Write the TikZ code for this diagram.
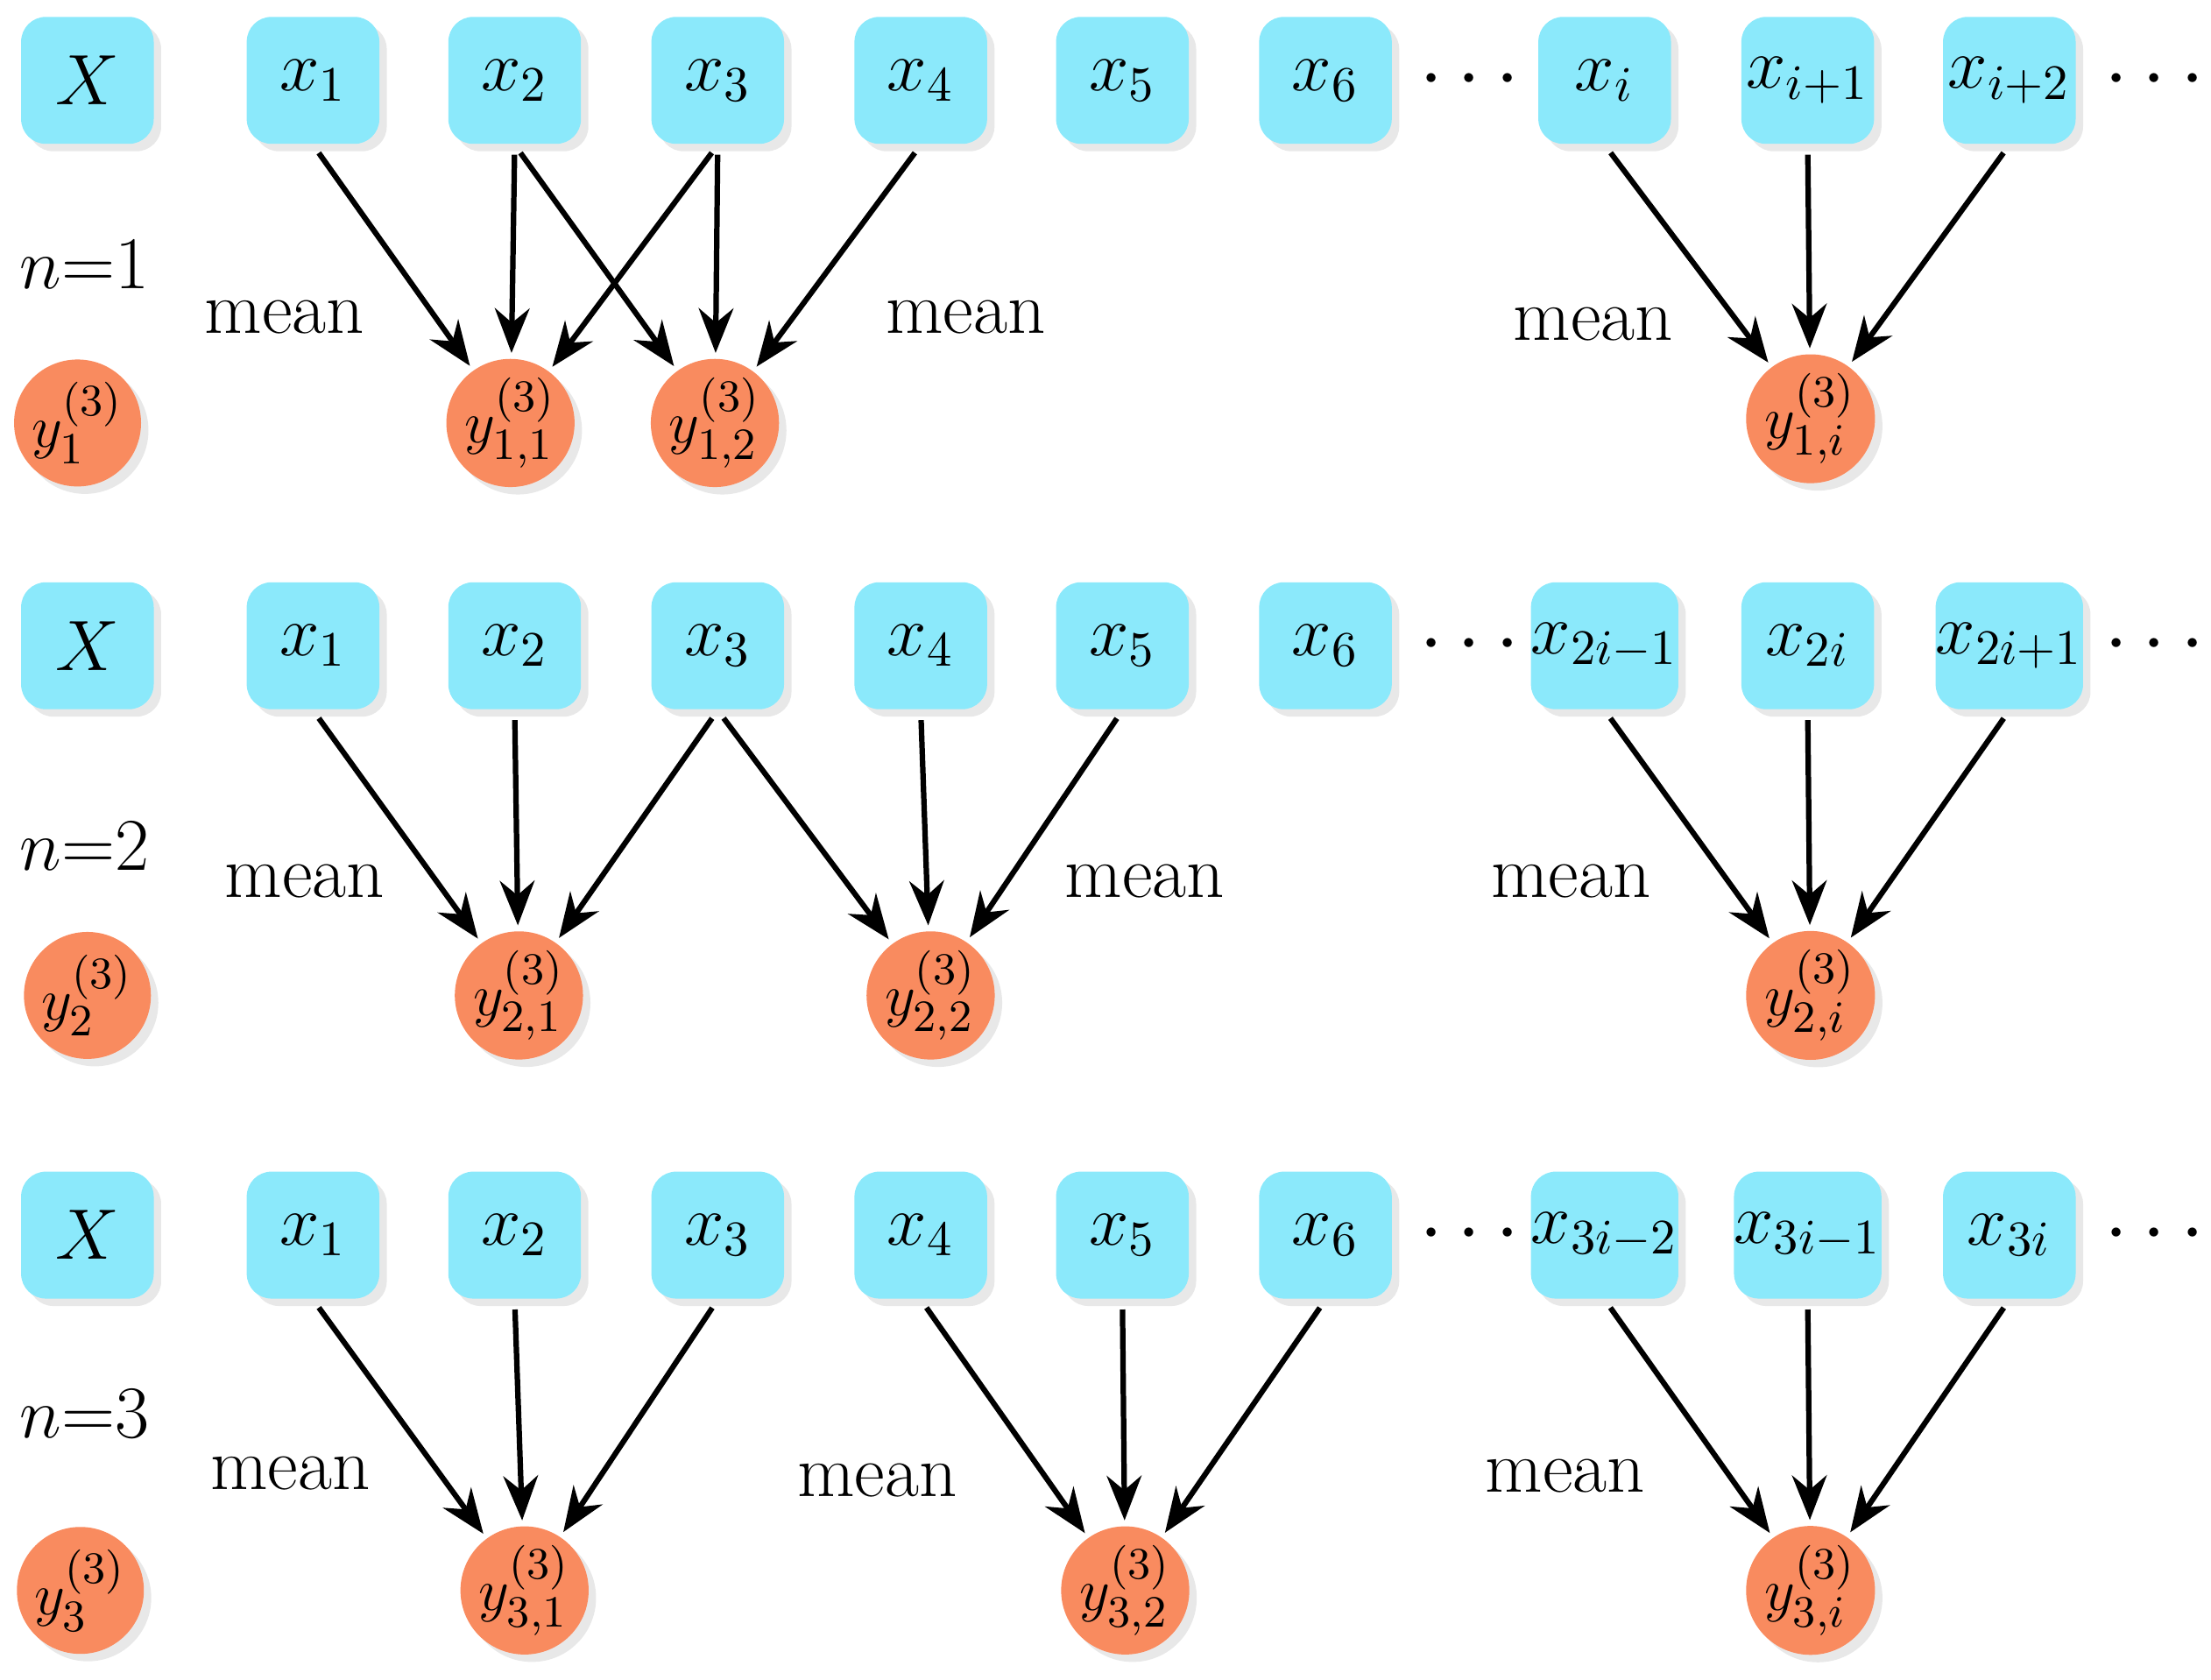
\documentclass[tikz,border=0pt]{standalone}
\usetikzlibrary{shadows,arrows.meta}
\definecolor{boxc}{HTML}{8BE9FB}
\definecolor{circc}{HTML}{F98B5F}
\begin{document}
\begin{tikzpicture}[x=0.01cm,y=-0.01cm,
  bx/.style={draw=none,fill=boxc,rounded corners=5pt,minimum width=0.94cm,minimum height=0.9cm,inner sep=0pt,font=\fontsize{14}{16}\selectfont,drop shadow={opacity=0.18,shadow xshift=1.5pt,shadow yshift=-1.5pt}},
  cc/.style={circle,fill=circc,minimum size=0.9cm,inner sep=0pt,font=\fontsize{13}{15}\selectfont,drop shadow={opacity=0.18,shadow xshift=1.5pt,shadow yshift=-1.5pt}},
  lab/.style={font=\fontsize{15}{17}\selectfont},
  dt/.style={font=\fontsize{17}{19}\selectfont},
  ar/.style={-{Stealth[length=9pt,width=7pt]},line width=1.1pt,shorten <=2pt,shorten >=1pt}]
\useasboundingbox (0,0) rectangle (1568,1191);
% Row 1
\foreach \n/\x/\t in {X/62/X,a1/222/x_1,a2/365/x_2,a3/509/x_3,a4/653/x_4,a5/796/x_5,a6/940/x_6,ai/1138/x_i,aj/1282/x_{i+1},ak/1425/x_{i+2}}
  \node[bx] (r1\n) at (\x,57) {$\t$};
\node[dt] (r1d1) at (1042,57) {$\cdots$};
\node[dt] (r1d2) at (1528,57) {$\cdots$};
\node[lab] (n1) at (60,187) {$n$=1};
\node[cc] (y1) at (55,300) {$y_1^{(3)}$};
\node[cc] (y11) at (362,300) {$y_{1,1}^{(3)}$};
\node[cc] (y12) at (507,300) {$y_{1,2}^{(3)}$};
\node[cc] (y1i) at (1284,297) {$y_{1,i}^{(3)}$};
\node[lab] (m11) at (202,225) {mean};
\node[lab] (m12) at (685,225) {mean};
\node[lab] (m13) at (1130,230) {mean};
\foreach \a/\b in {a1/y11,a2/y11,a2/y12,a3/y11,a3/y12,a4/y12,ai/y1i,aj/y1i,ak/y1i}
  \draw[ar] (r1\a.south) -- (\b);
% Row 2
\foreach \n/\x/\t in {X/62/X,a1/222/x_1,a2/365/x_2,a3/509/x_3,a4/653/x_4,a5/796/x_5,a6/940/x_6,ai/1138/x_{2i-1},aj/1282/x_{2i},ak/1425/x_{2i+1}}
  \node[bx] (r2\n) at (\x,458) {$\t$};
\node[dt] (r2d1) at (1042,458) {$\cdots$};
\node[dt] (r2d2) at (1528,458) {$\cdots$};
\node[lab] (n2) at (60,600) {$n$=2};
\node[cc] (y2) at (62,706) {$y_2^{(3)}$};
\node[cc] (y21) at (368,706) {$y_{2,1}^{(3)}$};
\node[cc] (y22) at (660,706) {$y_{2,2}^{(3)}$};
\node[cc] (y2i) at (1284,706) {$y_{2,i}^{(3)}$};
\node[lab] (m21) at (216,625) {mean};
\node[lab] (m22) at (812,625) {mean};
\node[lab] (m23) at (1114,625) {mean};
\foreach \a/\b in {a1/y21,a2/y21,a3/y21,a3/y22,a4/y22,a5/y22,ai/y2i,aj/y2i,ak/y2i}
  \draw[ar] (r2\a.south) -- (\b);
% Row 3
\foreach \n/\x/\t in {X/62/X,a1/222/x_1,a2/365/x_2,a3/509/x_3,a4/653/x_4,a5/796/x_5,a6/940/x_6,ai/1138/x_{3i-2},aj/1282/x_{3i-1},ak/1425/x_{3i}}
  \node[bx] (r3\n) at (\x,876) {$\t$};
\node[dt] (r3d1) at (1042,876) {$\cdots$};
\node[dt] (r3d2) at (1528,876) {$\cdots$};
\node[lab] (n3) at (60,1003) {$n$=3};
\node[cc] (y3) at (57,1128) {$y_3^{(3)}$};
\node[cc] (y31) at (372,1128) {$y_{3,1}^{(3)}$};
\node[cc] (y32) at (798,1128) {$y_{3,2}^{(3)}$};
\node[cc] (y3i) at (1284,1128) {$y_{3,i}^{(3)}$};
\node[lab] (m31) at (206,1045) {mean};
\node[lab] (m32) at (622,1050) {mean};
\node[lab] (m33) at (1110,1047) {mean};
\foreach \a/\b in {a1/y31,a2/y31,a3/y31,a4/y32,a5/y32,a6/y32,ai/y3i,aj/y3i,ak/y3i}
  \draw[ar] (r3\a.south) -- (\b);
\end{tikzpicture}
\end{document}
